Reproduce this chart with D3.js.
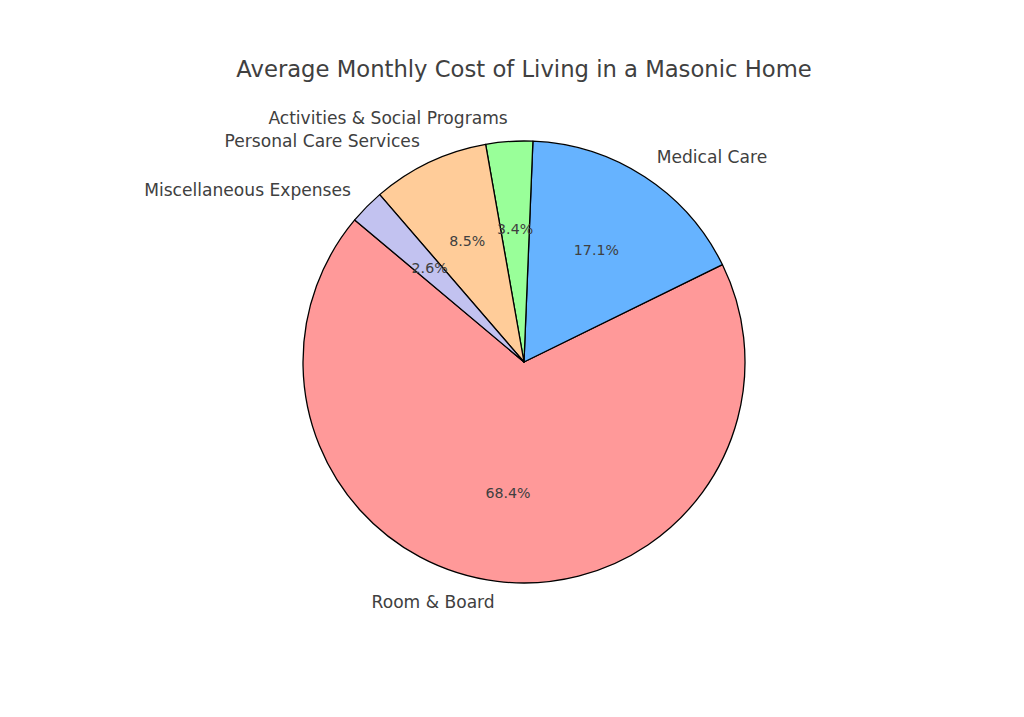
<!DOCTYPE html>
<html>
<head>
<meta charset="utf-8">
<script src="https://cdn.jsdelivr.net/npm/d3@7"></script>
<style>
  body { margin: 0; background: #fff; }
  text { font-family: "DejaVu Sans", sans-serif; fill: #404040; }
</style>
</head>
<body>
<div id="chart"></div>
<script>
// Data
var categories = ["Room & Board", "Medical Care", "Activities & Social Programs", "Personal Care Services", "Miscellaneous Expenses"];
var costs = [2000, 500, 100, 250, 75];
var colors = ["#ff9999", "#66b3ff", "#99ff99", "#ffcc99", "#c2c2f0"];

var width = 1024, height = 717;
var cx = 524, cy = 362, radius = 221;

var svg = d3.select("#chart").append("svg")
    .attr("width", width)
    .attr("height", height);

svg.append("text")
    .attr("x", cx)
    .attr("y", 70)
    .attr("text-anchor", "middle")
    .attr("dominant-baseline", "middle")
    .style("font-size", "22.7px")
    .text("Average Monthly Cost of Living in a Masonic Home");

var total = d3.sum(costs);

// matplotlib startangle=140, counterclockwise -> d3 angle = 90deg - theta
var start = (90 - 140) * Math.PI / 180;
var pie = d3.pie().sort(null)
    .startAngle(start)
    .endAngle(start - 2 * Math.PI);

var arcs = pie(costs);
var arc = d3.arc().innerRadius(0).outerRadius(radius);

var g = svg.append("g")
    .attr("transform", "translate(" + cx + "," + cy + ")");

g.selectAll("path")
    .data(arcs)
    .enter()
    .append("path")
    .attr("d", arc)
    .attr("fill", function(d, i) { return colors[i]; })
    .attr("stroke", "#000")
    .attr("stroke-width", 1.3)
    .attr("stroke-linejoin", "round");

function midPoint(d, r) {
    var a = (d.startAngle + d.endAngle) / 2;
    return [r * Math.sin(a), -r * Math.cos(a)];
}

g.selectAll("text.label")
    .data(arcs)
    .enter()
    .append("text")
    .attr("class", "label")
    .attr("x", function(d) { return midPoint(d, radius * 1.1)[0]; })
    .attr("y", function(d) { return midPoint(d, radius * 1.1)[1]; })
    .attr("text-anchor", function(d) { return midPoint(d, 1)[0] < 0 ? "end" : "start"; })
    .attr("dominant-baseline", "middle")
    .style("font-size", "17.1px")
    .text(function(d, i) { return categories[i]; });

g.selectAll("text.pct")
    .data(arcs)
    .enter()
    .append("text")
    .attr("class", "pct")
    .attr("x", function(d) { return midPoint(d, radius * 0.6)[0]; })
    .attr("y", function(d) { return midPoint(d, radius * 0.6)[1]; })
    .attr("text-anchor", "middle")
    .attr("dominant-baseline", "middle")
    .style("font-size", "14.2px")
    .text(function(d) { return (d.value / total * 100).toFixed(1) + "%"; });
</script>
</body>
</html>
